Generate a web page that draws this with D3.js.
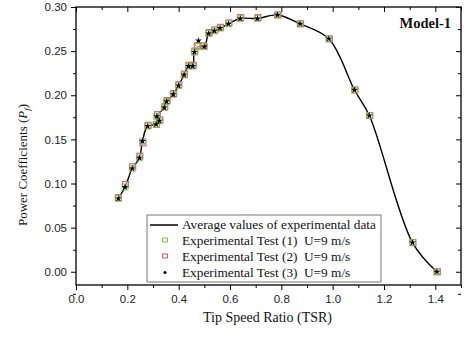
<!DOCTYPE html>
<html>
<head>
<meta charset="utf-8">
<script src="https://cdn.jsdelivr.net/npm/d3@7"></script>
<style>
  html, body { margin: 0; padding: 0; background: #fff; }
  svg { display: block; }
</style>
</head>
<body>
<svg id="chart" width="474" height="341"></svg>
<script>
// ---------------- data ----------------
const avgTSR = [0.165, 0.191, 0.219, 0.247, 0.259, 0.279, 0.312, 0.325, 0.315, 0.344, 0.353, 0.379, 0.399, 0.421, 0.438, 0.455, 0.461, 0.477, 0.500, 0.517, 0.539, 0.561, 0.594, 0.640, 0.707, 0.785, 0.873, 0.985, 1.085, 1.143, 1.311, 1.406];
const avgCp  = [0.083, 0.096, 0.117, 0.129, 0.148, 0.165, 0.167, 0.171, 0.176, 0.186, 0.193, 0.201, 0.211, 0.223, 0.233, 0.233, 0.249, 0.255, 0.255, 0.270, 0.273, 0.276, 0.281, 0.287, 0.287, 0.291, 0.281, 0.264, 0.206, 0.177, 0.033, 0.000];

const test1TSR = [0.165, 0.191, 0.219, 0.247, 0.259, 0.279, 0.312, 0.325, 0.315, 0.344, 0.353, 0.379, 0.399, 0.421, 0.438, 0.455, 0.461, 0.477, 0.500, 0.517, 0.539, 0.561, 0.594, 0.640, 0.707, 0.785, 0.873, 0.985, 1.085, 1.143, 1.311, 1.406];
const test1Cp  = [0.083, 0.096, 0.117, 0.129, 0.148, 0.165, 0.167, 0.171, 0.176, 0.186, 0.193, 0.201, 0.211, 0.223, 0.233, 0.233, 0.249, 0.255, 0.255, 0.270, 0.273, 0.276, 0.281, 0.287, 0.287, 0.291, 0.281, 0.264, 0.206, 0.177, 0.033, 0.000];

const test2TSR = [0.165, 0.193, 0.221, 0.249, 0.261, 0.281, 0.314, 0.327, 0.317, 0.346, 0.355, 0.381, 0.401, 0.423, 0.440, 0.457, 0.463, 0.472, 0.498, 0.519, 0.541, 0.563, 0.596, 0.642, 0.709, 0.787, 0.875, 0.987, 1.087, 1.145, 1.313, 1.408];
const test2Cp  = [0.084, 0.099, 0.119, 0.131, 0.146, 0.166, 0.167, 0.172, 0.178, 0.187, 0.194, 0.202, 0.212, 0.224, 0.234, 0.234, 0.250, 0.256, 0.256, 0.271, 0.274, 0.277, 0.282, 0.288, 0.288, 0.291, 0.281, 0.264, 0.206, 0.177, 0.033, 0.000];

const test3TSR = [0.165, 0.191, 0.219, 0.247, 0.259, 0.279, 0.312, 0.325, 0.315, 0.344, 0.353, 0.379, 0.399, 0.421, 0.438, 0.455, 0.461, 0.477, 0.500, 0.517, 0.539, 0.561, 0.594, 0.640, 0.707, 0.785, 0.873, 0.985, 1.085, 1.143, 1.311, 1.406];
const test3Cp  = [0.083, 0.096, 0.117, 0.129, 0.148, 0.165, 0.167, 0.171, 0.176, 0.186, 0.193, 0.201, 0.211, 0.223, 0.233, 0.233, 0.249, 0.262, 0.255, 0.270, 0.273, 0.276, 0.281, 0.287, 0.287, 0.291, 0.281, 0.264, 0.206, 0.177, 0.033, 0.000];

const xTicks = [0.0, 0.2, 0.4, 0.6, 0.8, 1.0, 1.2, 1.4];
const yTicks = [0.00, 0.05, 0.10, 0.15, 0.20, 0.25, 0.30];
const xMinor = [0.1, 0.3, 0.5, 0.7, 0.9, 1.1, 1.3, 1.5];
const yMinor = [-0.025, 0.025, 0.075, 0.125, 0.175, 0.225, 0.275];

const legendLabels = ["Average values of experimental data", "Experimental Test (1)", "Experimental Test (2)", "Experimental Test (3)"];
const legendSpeed = "U=9 m/s";
const title = "Model-1";

// ---------------- layout ----------------
const svg = d3.select("#chart");
const L = 76, R = 461, T = 7, B = 285;
const x = d3.scaleLinear().domain([0, 1.5]).range([L, R]);
const y = d3.scaleLinear().domain([-0.015, 0.30]).range([B, T]);

const serif = "'Liberation Serif', 'Times New Roman', serif";
const sans = "'Liberation Sans', Arial, sans-serif";
const green = "#6cc940", red = "#e0507a";

// axes
function styleAxis(g) {
  g.select(".domain").remove();
  g.selectAll("line").attr("stroke", "#000").attr("stroke-width", 1);
  g.selectAll("text").attr("font-family", sans).attr("font-size", "11.5px").attr("fill", "#222");
}
svg.append("g").attr("transform", `translate(0,${B})`)
  .call(d3.axisBottom(x).tickValues(xTicks).tickFormat(d3.format(".1f")).tickSize(5).tickPadding(5))
  .call(styleAxis);
svg.append("g").attr("transform", `translate(0,${B})`)
  .call(d3.axisBottom(x).tickValues(xMinor).tickFormat("").tickSize(3)).call(styleAxis);
svg.append("g").attr("transform", `translate(0,${T})`)
  .call(d3.axisBottom(x).tickValues(xTicks).tickFormat("").tickSize(5)).call(styleAxis);
svg.append("g").attr("transform", `translate(0,${T})`)
  .call(d3.axisBottom(x).tickValues(xMinor).tickFormat("").tickSize(3)).call(styleAxis);

svg.append("g").attr("transform", `translate(${L},0)`)
  .call(d3.axisLeft(y).tickValues(yTicks).tickFormat(d3.format(".2f")).tickSize(5).tickPadding(4))
  .call(styleAxis);
svg.append("g").attr("transform", `translate(${L},0)`)
  .call(d3.axisLeft(y).tickValues(yMinor).tickFormat("").tickSize(3)).call(styleAxis);
svg.append("g").attr("transform", `translate(${R},0)`)
  .call(d3.axisLeft(y).tickValues(yTicks).tickFormat("").tickSize(5)).call(styleAxis);
svg.append("g").attr("transform", `translate(${R},0)`)
  .call(d3.axisLeft(y).tickValues(yMinor).tickFormat("").tickSize(3)).call(styleAxis);

// frame
svg.append("rect").attr("x", L).attr("y", T).attr("width", R - L).attr("height", B - T)
  .attr("fill", "none").attr("stroke", "#000").attr("stroke-width", 1.3);

// axis titles
svg.append("text").attr("x", (L + R) / 2 - 1).attr("y", 322).attr("text-anchor", "middle")
  .attr("font-family", serif).attr("font-size", "14px").attr("fill", "#111")
  .text("Tip Speed Ratio (TSR)");
const yt = svg.append("text").attr("transform", "translate(27,165) rotate(-90)")
  .attr("text-anchor", "middle").attr("font-family", serif).attr("font-size", "13px").attr("fill", "#111");
yt.append("tspan").text("Power Coefficients (");
yt.append("tspan").attr("font-style", "italic").text("P");
yt.append("tspan").attr("font-style", "italic").attr("font-size", "9px").attr("dy", 3).text("f");
yt.append("tspan").attr("dy", -3).text(")");

// title
svg.append("text").attr("x", 451).attr("y", 28).attr("text-anchor", "end")
  .attr("font-family", serif).attr("font-weight", "bold").attr("font-size", "14.5px").attr("fill", "#111")
  .text(title);

// average line
const avg = avgTSR.map((d, i) => [d, avgCp[i]]);
svg.append("path").datum(avg)
  .attr("d", d3.line().x(d => x(d[0])).y(d => y(d[1])).curve(d3.curveCatmullRom.alpha(0.5)))
  .attr("fill", "none").attr("stroke", "#000").attr("stroke-width", 1.4);

// markers
const s = 6;
svg.append("g").selectAll("rect").data(test2TSR.map((d, i) => [d, test2Cp[i]])).join("rect")
  .attr("x", d => x(d[0]) - s / 2).attr("y", d => y(d[1]) - s / 2).attr("width", s).attr("height", s)
  .attr("fill", "#efe8d0").attr("fill-opacity", 0.6).attr("stroke", red).attr("stroke-width", 1);
svg.append("g").selectAll("rect").data(test1TSR.map((d, i) => [d, test1Cp[i]])).join("rect")
  .attr("x", d => x(d[0]) - s / 2).attr("y", d => y(d[1]) - s / 2).attr("width", s).attr("height", s)
  .attr("fill", "none").attr("stroke", green).attr("stroke-width", 1).attr("stroke-opacity", 0.75);
svg.append("g").selectAll("path").data(test3TSR.map((d, i) => [d, test3Cp[i]])).join("path")
  .attr("transform", d => `translate(${x(d[0])},${y(d[1])})`)
  .attr("d", d3.symbol(d3.symbolStar, 14)).attr("fill", "#000");

// legend
const lg = svg.append("g");
lg.append("rect").attr("x", 147).attr("y", 215).attr("width", 234).attr("height", 67)
  .attr("fill", "#fff").attr("stroke", "#777").attr("stroke-width", 1);
const rowY = [229, 245, 261, 277];
legendLabels.forEach((t, i) => {
  lg.append("text").attr("x", 182).attr("y", rowY[i]).attr("font-family", serif)
    .attr("font-size", "13.3px").attr("fill", "#111").text(t);
  if (i > 0) {
    lg.append("text").attr("x", 304).attr("y", rowY[i]).attr("font-family", serif)
      .attr("font-size", "13.3px").attr("fill", "#111").text(legendSpeed);
  }
});
lg.append("line").attr("x1", 150).attr("x2", 178).attr("y1", rowY[0] - 4).attr("y2", rowY[0] - 4)
  .attr("stroke", "#000").attr("stroke-width", 1.5);
lg.append("rect").attr("x", 162.5).attr("y", rowY[1] - 7).attr("width", 5).attr("height", 4)
  .attr("fill", "none").attr("stroke", green).attr("stroke-width", 1);
lg.append("rect").attr("x", 162.5).attr("y", rowY[2] - 7).attr("width", 5).attr("height", 4)
  .attr("fill", "none").attr("stroke", red).attr("stroke-width", 1);
lg.append("circle").attr("cx", 165).attr("cy", rowY[3] - 4.5).attr("r", 1.5).attr("fill", "#000");
</script>
</body>
</html>
